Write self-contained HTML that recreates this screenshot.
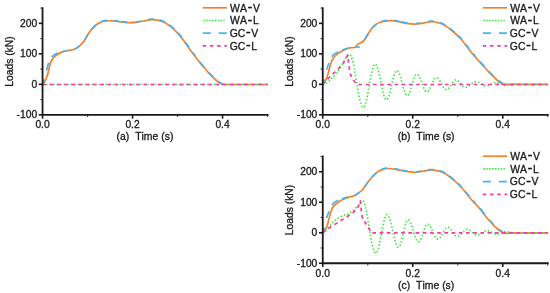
<!DOCTYPE html>
<html lang="en">
<head>
<meta charset="utf-8">
<title>Loads versus time</title>
<style>
html,body{margin:0;padding:0;background:#fff;}
body{width:550px;height:293px;overflow:hidden;font-family:"Liberation Sans",Arial,Helvetica,sans-serif;}
svg text{font-family:"Liberation Sans",Arial,Helvetica,sans-serif;font-kerning:none;}
</style>
</head>
<body>
<svg width="550" height="293" viewBox="0 0 550 293" style="display:block">
<rect width="550" height="293" fill="#ffffff"/>
<g font-family="'Liberation Sans', Arial, Helvetica, sans-serif" font-size="10.3" fill="#1a1a1a" stroke="#1a1a1a" stroke-width="0.3">
<g transform="translate(0.00,0.00)">
<path d="M42.50,84.40 C42.75,84.10 43.52,83.27 44.00,82.60 C44.48,81.93 44.87,81.53 45.40,80.40 C45.93,79.27 46.63,77.60 47.20,75.80 C47.77,74.00 48.23,71.78 48.80,69.60 C49.37,67.42 49.88,64.62 50.60,62.70 C51.32,60.78 52.00,59.47 53.10,58.10 C54.20,56.73 55.62,55.53 57.20,54.50 C58.78,53.47 60.80,52.57 62.60,51.90 C64.40,51.23 66.30,50.85 68.00,50.50 C69.70,50.15 71.32,50.23 72.80,49.80 C74.28,49.37 75.53,48.77 76.90,47.90 C78.27,47.03 79.77,45.78 81.00,44.60 C82.23,43.42 83.23,42.35 84.30,40.80 C85.37,39.25 86.20,37.17 87.40,35.30 C88.60,33.43 90.00,31.37 91.50,29.60 C93.00,27.83 94.77,25.98 96.40,24.70 C98.03,23.42 99.67,22.53 101.30,21.90 C102.93,21.27 104.28,21.07 106.20,20.90 C108.12,20.73 110.33,20.72 112.80,20.90 C115.27,21.08 118.27,21.70 121.00,22.00 C123.73,22.30 126.47,22.67 129.20,22.70 C131.93,22.73 134.67,22.55 137.40,22.20 C140.13,21.85 143.15,21.03 145.60,20.60 C148.05,20.17 149.95,19.65 152.10,19.60 C154.25,19.55 156.52,19.85 158.50,20.30 C160.48,20.75 162.00,21.28 164.00,22.30 C166.00,23.32 167.72,24.02 170.50,26.40 C173.28,28.78 177.28,32.50 180.70,36.60 C184.12,40.70 187.58,46.38 191.00,51.00 C194.42,55.62 198.63,61.08 201.20,64.30 C203.77,67.52 204.70,68.37 206.40,70.30 C208.10,72.23 209.63,74.12 211.40,75.90 C213.17,77.68 215.47,79.73 217.00,81.00 C218.53,82.27 219.62,82.93 220.60,83.50 C221.58,84.07 222.00,84.23 222.90,84.40 C223.80,84.57 218.57,84.48 226.00,84.50 C233.43,84.52 260.58,84.50 267.50,84.50" fill="none" stroke="#f5822a" stroke-width="1.70" stroke-linejoin="round"/>
<path d="M42.55,84.50 L267.60,84.50" fill="none" stroke="#3dea3d" stroke-width="1.70" stroke-linejoin="round" stroke-dasharray="1.5 2.0"/>
<path d="M42.60,84.10 L42.63,84.00 L42.69,83.83 L42.75,83.64 L42.82,83.44 L42.89,83.23 L42.96,83.01 L43.04,82.78 L43.12,82.54 L43.20,82.29 L43.28,82.04 L43.36,81.79 L43.44,81.52 L43.52,81.26 L43.60,81.00 L43.68,80.73 L43.76,80.46 L43.84,80.17 L43.93,79.88 L44.01,79.58 L44.10,79.27 L44.10,79.26 M46.50,70.40 L46.50,70.40 L46.62,69.97 L46.74,69.52 L46.87,69.06 L47.00,68.58 L47.14,68.08 L47.27,67.58 L47.41,67.07 L47.56,66.56 L47.70,66.04 L47.85,65.53 L48.00,65.03 L48.16,64.53 L48.31,64.05 L48.47,63.58 L48.64,63.13 L48.80,62.70 L48.80,62.70 M51.80,57.00 L51.80,57.00 L51.99,56.75 L52.19,56.52 L52.39,56.30 L52.59,56.10 L52.79,55.92 L52.99,55.75 L53.20,55.58 L53.40,55.43 L53.60,55.29 L53.81,55.15 L54.01,55.02 L54.21,54.89 L54.41,54.77 L54.61,54.65 L54.81,54.52 L55.00,54.40 L55.19,54.28 L55.37,54.17 L55.55,54.06 L55.73,53.97 L55.90,53.87 L56.07,53.79 L56.24,53.70 L56.41,53.62 L56.59,53.55 L56.77,53.47 L56.95,53.40 L57.14,53.32 L57.34,53.25 L57.55,53.17 L57.77,53.09 L58.00,53.00 L58.00,53.00 M61.90,51.78 L61.98,51.76 L62.29,51.68 L62.60,51.60 L62.92,51.52 L63.24,51.45 L63.57,51.37 L63.91,51.29 L64.25,51.22 L64.59,51.15 L64.94,51.08 L65.29,51.01 L65.64,50.94 L65.98,50.87 L66.33,50.80 L66.67,50.74 L67.01,50.68 L67.35,50.62 L67.68,50.56 L68.00,50.50 L68.00,50.50 M74.90,49.01 L75.14,48.89 L75.39,48.77 L75.64,48.64 L75.89,48.50 L76.14,48.36 L76.39,48.21 L76.65,48.06 L76.90,47.90 L77.16,47.73 L77.42,47.56 L77.68,47.38 L77.94,47.19 L78.21,46.99 L78.47,46.79 L78.74,46.58 L79.00,46.37 L79.26,46.15 L79.52,45.94 L79.60,45.87 M84.90,39.84 L85.07,39.55 L85.25,39.21 L85.43,38.87 L85.62,38.52 L85.80,38.17 L85.99,37.81 L86.17,37.45 L86.36,37.09 L86.56,36.73 L86.76,36.37 L86.97,36.01 L87.18,35.65 L87.40,35.30 L87.63,34.95 L87.86,34.59 L88.00,34.38 M91.80,29.25 L92.07,28.93 L92.37,28.60 L92.67,28.27 L92.97,27.94 L93.28,27.61 L93.59,27.29 L93.90,26.97 L94.21,26.66 L94.53,26.35 L94.84,26.05 L95.16,25.76 L95.47,25.48 L95.78,25.21 L96.09,24.95 L96.40,24.70 L96.40,24.70 M101.75,21.32 L101.85,21.29 L102.15,21.18 L102.44,21.09 L102.74,21.00 L103.02,20.92 L103.31,20.85 L103.60,20.78 L103.89,20.72 L104.19,20.67 L104.49,20.62 L104.79,20.58 L105.11,20.54 L105.43,20.50 L105.76,20.46 L106.10,20.43 L106.45,20.40 L106.81,20.37 L106.85,20.37 M114.15,20.51 L114.49,20.54 L114.99,20.61 L115.49,20.68 L116.01,20.75 L116.53,20.83 L117.05,20.91 L117.58,20.99 L118.10,21.07 L118.63,21.15 L119.05,21.21 M120.85,21.45 L121.25,21.50 L121.76,21.56 L122.28,21.61 L122.79,21.67 L123.30,21.73 L123.81,21.79 L124.33,21.84 L124.84,21.90 L125.35,21.95 L125.86,22.00 L126.38,22.04 L126.89,22.08 L127.25,22.11 M135.75,21.92 L136.11,21.88 L136.62,21.82 L137.14,21.76 L137.65,21.70 L138.17,21.63 L138.69,21.55 L139.21,21.46 L139.74,21.36 L140.27,21.26 L140.80,21.15 L140.85,21.14 M147.65,19.76 L148.01,19.69 L148.42,19.61 L148.82,19.53 L149.21,19.46 L149.60,19.39 L149.99,19.32 L150.38,19.27 L150.77,19.22 L151.16,19.17 L151.55,19.14 L151.95,19.11 L152.35,19.10 L152.75,19.09 L153.16,19.10 L153.57,19.11 L153.65,19.11 M159.55,19.99 L159.82,20.06 L160.16,20.16 L160.50,20.26 L160.83,20.36 L161.16,20.47 L161.49,20.59 L161.82,20.71 L162.15,20.84 L162.49,20.98 L162.83,21.12 L163.17,21.28 L163.52,21.44 L163.88,21.61 L164.25,21.80 L164.62,21.99 L164.99,22.17 L165.15,22.25 M169.75,25.08 L169.75,25.08 L170.24,25.47 L170.75,25.90 L171.29,26.36 L171.85,26.85 L172.43,27.37 L173.04,27.92 L173.66,28.50 L174.30,29.09 L174.35,29.14 M178.05,32.84 L178.31,33.11 L178.98,33.84 L179.64,34.58 L180.30,35.34 L180.95,36.10 L181.59,36.89 L181.65,36.96 M185.35,42.02 L185.45,42.17 L186.10,43.11 L186.75,44.05 L187.39,45.00 L188.04,45.94 L188.68,46.88 L189.05,47.41 M192.75,52.51 L193.24,53.17 L193.92,54.07 L194.61,54.98 L195.30,55.89 L195.65,56.34 M199.85,61.78 L200.41,62.49 L200.95,63.17 L201.45,63.80 L201.91,64.38 L202.34,64.90 L202.74,65.38 L203.11,65.82 L203.45,66.23 L203.78,66.60 L204.08,66.95 L204.38,67.28 L204.65,67.59 M209.05,72.57 L209.12,72.66 L209.43,73.01 L209.74,73.35 L210.05,73.70 L210.36,74.04 L210.68,74.39 L211.00,74.73 L211.32,75.06 L211.65,75.40 L211.99,75.74 L212.33,76.08 L212.69,76.42 L213.05,76.77 L213.15,76.86 M218.25,81.29 L218.32,81.35 L218.57,81.53 L218.80,81.70 L219.03,81.86 L219.26,82.01 L219.47,82.16 L219.68,82.29 L219.89,82.42 L220.09,82.55 L220.28,82.67 L220.48,82.78 L220.66,82.89 L220.85,83.00 L221.03,83.10 L221.19,83.19 L221.35,83.28 L221.50,83.36 L221.64,83.43 L221.77,83.49 L221.90,83.55 L222.03,83.60 L222.16,83.65 L222.29,83.69 L222.42,83.73 L222.55,83.77 L222.55,83.77 L222.25,84.01 L222.19,84.01 L222.24,84.00 L222.42,84.00 L222.55,84.00 M231.20,84.51 L232.00,84.51 L233.60,84.51 M244.50,84.51 L246.90,84.51 M258.50,84.50 L259.14,84.50 L260.50,84.50" fill="none" stroke="#40b6f4" stroke-width="1.70" stroke-linejoin="round"/>
<path d="M42.55,84.50 L267.60,84.50" fill="none" stroke="#f83aa4" stroke-width="1.70" stroke-linejoin="round" stroke-dasharray="3.7 3.5"/>
<path d="M42.55,8.10 V114.85 H267.60" fill="none" stroke="#1a1a1a" stroke-width="1.8" stroke-linecap="square"/>
<path d="M42.55,114.85 h-3.8" stroke="#1a1a1a" stroke-width="1.6"/>
<text x="37.15" y="118.45" text-anchor="end">-100</text>
<path d="M42.55,84.35 h-3.8" stroke="#1a1a1a" stroke-width="1.6"/>
<text x="37.15" y="87.95" text-anchor="end">0</text>
<path d="M42.55,53.85 h-3.8" stroke="#1a1a1a" stroke-width="1.6"/>
<text x="37.15" y="57.45" text-anchor="end">100</text>
<path d="M42.55,23.35 h-3.8" stroke="#1a1a1a" stroke-width="1.6"/>
<text x="37.15" y="26.95" text-anchor="end">200</text>
<path d="M42.55,99.60 h-2.2" stroke="#1a1a1a" stroke-width="1.1" opacity=".8"/>
<path d="M42.55,69.10 h-2.2" stroke="#1a1a1a" stroke-width="1.1" opacity=".8"/>
<path d="M42.55,38.60 h-2.2" stroke="#1a1a1a" stroke-width="1.1" opacity=".8"/>
<path d="M42.55,8.10 h-2.2" stroke="#1a1a1a" stroke-width="1.1" opacity=".8"/>
<path d="M42.55,114.85 v3.8" stroke="#1a1a1a" stroke-width="1.6"/>
<text x="42.55" y="128.45" text-anchor="middle">0.0</text>
<path d="M132.55,114.85 v3.8" stroke="#1a1a1a" stroke-width="1.6"/>
<text x="132.55" y="128.45" text-anchor="middle">0.2</text>
<path d="M222.55,114.85 v3.8" stroke="#1a1a1a" stroke-width="1.6"/>
<text x="222.55" y="128.45" text-anchor="middle">0.4</text>
<path d="M87.55,114.85 v2.2" stroke="#1a1a1a" stroke-width="1.1" opacity=".8"/>
<path d="M177.55,114.85 v2.2" stroke="#1a1a1a" stroke-width="1.1" opacity=".8"/>
<path d="M267.55,114.85 v2.2" stroke="#1a1a1a" stroke-width="1.1" opacity=".8"/>
<text x="145.00" y="139.60" text-anchor="middle" style="font-size:10.45px;white-space:pre" xml:space="preserve">(a)  Time (s)</text>
<text transform="translate(12.90,61.60) rotate(-90)" text-anchor="middle" style="font-size:10.3px">Loads (kN)</text>
<path d="M202.70,7.80 H227.00" stroke="#f5822a" stroke-width="1.7"/>
<text x="230.10" y="11.50" style="font-size:10.4px">WA<tspan style="font-size:15px" dx="0.55" dy="0.4">-</tspan><tspan dx="0.5" dy="-0.4">V</tspan></text>
<path d="M203.30,20.50 H224.70" stroke="#3dea3d" stroke-width="1.7" stroke-dasharray="1.55 1.3"/>
<text x="230.10" y="24.20" style="font-size:10.4px">WA<tspan style="font-size:15px" dx="0.55" dy="0.4">-</tspan><tspan dx="0.5" dy="-0.4">L</tspan></text>
<path d="M202.70,33.20 H227.00" stroke="#40b6f4" stroke-width="1.7" stroke-dasharray="8 8"/>
<text x="229.65" y="36.90" style="font-size:10.4px">GC<tspan style="font-size:15px" dx="0.55" dy="0.4">-</tspan><tspan dx="0.5" dy="-0.4">V</tspan></text>
<path d="M202.70,45.90 H227.00" stroke="#f83aa4" stroke-width="1.7" stroke-dasharray="3.4 3.8"/>
<text x="229.65" y="49.60" style="font-size:10.4px">GC<tspan style="font-size:15px" dx="0.55" dy="0.4">-</tspan><tspan dx="0.5" dy="-0.4">L</tspan></text>
</g>
<g transform="translate(280.20,0.00)">
<path d="M42.40,84.40 C42.67,84.10 43.48,83.27 44.00,82.60 C44.52,81.93 44.95,81.53 45.50,80.40 C46.05,79.27 46.73,77.60 47.30,75.80 C47.87,74.00 48.30,71.78 48.90,69.60 C49.50,67.42 50.18,64.62 50.90,62.70 C51.62,60.78 52.18,59.52 53.20,58.10 C54.22,56.68 55.47,55.42 57.00,54.20 C58.53,52.98 60.57,51.78 62.40,50.80 C64.23,49.82 66.15,48.85 68.00,48.30 C69.85,47.75 72.17,47.73 73.50,47.50 C74.83,47.27 75.38,47.38 76.00,46.90 C76.62,46.42 76.72,45.17 77.20,44.60 C77.68,44.03 78.15,43.88 78.90,43.50 C79.65,43.12 80.78,42.95 81.70,42.30 C82.62,41.65 83.50,40.73 84.40,39.60 C85.30,38.47 86.18,36.98 87.10,35.50 C88.02,34.02 88.98,32.07 89.90,30.70 C90.82,29.33 91.58,28.37 92.60,27.30 C93.62,26.23 94.87,25.10 96.00,24.30 C97.13,23.50 98.15,23.00 99.40,22.50 C100.65,22.00 102.07,21.58 103.50,21.30 C104.93,21.02 106.35,20.88 108.00,20.80 C109.65,20.72 111.28,20.55 113.40,20.80 C115.52,21.05 118.27,21.82 120.70,22.30 C123.13,22.78 125.88,23.40 128.00,23.70 C130.12,24.00 131.28,24.13 133.40,24.10 C135.52,24.07 138.57,23.80 140.70,23.50 C142.83,23.20 144.38,22.62 146.20,22.30 C148.02,21.98 150.00,21.62 151.60,21.60 C153.20,21.58 154.40,21.92 155.80,22.20 C157.20,22.48 158.50,22.73 160.00,23.30 C161.50,23.87 163.08,24.57 164.80,25.60 C166.52,26.63 167.68,27.32 170.30,29.50 C172.92,31.68 177.08,34.95 180.50,38.70 C183.92,42.45 187.38,47.83 190.80,52.00 C194.22,56.17 198.27,60.63 201.00,63.70 C203.73,66.77 205.50,68.58 207.20,70.40 C208.90,72.22 209.60,73.00 211.20,74.60 C212.80,76.20 215.27,78.65 216.80,80.00 C218.33,81.35 219.32,81.98 220.40,82.70 C221.48,83.42 222.23,84.01 223.30,84.30 C224.37,84.59 219.43,84.42 226.80,84.45 C234.17,84.48 260.72,84.45 267.50,84.45" fill="none" stroke="#f5822a" stroke-width="1.70" stroke-linejoin="round"/>
<path d="M42.40,84.50 L45.30,83.60 L48.00,82.10 L54.10,76.00 L60.20,67.80 L65.40,58.60 L67.80,55.30 L69.40,54.50 L69.90,54.68 L70.41,55.21 L70.91,56.10 L71.41,57.32 L71.92,58.86 L72.42,60.70 L72.93,62.81 L73.43,65.18 L73.93,67.75 L74.44,70.50 L74.94,73.40 L75.44,76.40 L75.95,79.46 L76.45,82.54 L76.96,85.60 L77.46,88.60 L77.96,91.50 L78.47,94.25 L78.97,96.82 L79.47,99.19 L79.98,101.30 L80.48,103.14 L80.99,104.68 L81.49,105.90 L81.99,106.79 L82.50,107.32 L83.00,107.50 L83.52,107.30 L84.03,106.70 L84.55,105.70 L85.07,104.34 L85.59,102.63 L86.10,100.61 L86.62,98.31 L87.14,95.78 L87.66,93.07 L88.17,90.21 L88.69,87.28 L89.21,84.32 L89.73,81.39 L90.24,78.53 L90.76,75.82 L91.28,73.29 L91.80,70.99 L92.31,68.97 L92.83,67.26 L93.35,65.90 L93.87,64.90 L94.38,64.30 L94.90,64.10 L95.42,64.28 L95.94,64.83 L96.45,65.72 L96.97,66.94 L97.49,68.47 L98.01,70.28 L98.53,72.32 L99.05,74.56 L99.56,76.96 L100.08,79.45 L100.60,82.00 L101.12,84.55 L101.64,87.04 L102.15,89.44 L102.67,91.68 L103.19,93.72 L103.71,95.53 L104.23,97.06 L104.75,98.28 L105.26,99.17 L105.78,99.72 L106.30,99.90 L106.81,99.72 L107.33,99.18 L107.85,98.30 L108.36,97.09 L108.88,95.59 L109.39,93.84 L109.91,91.87 L110.42,89.74 L110.94,87.50 L111.45,85.20 L111.97,82.90 L112.48,80.66 L113.00,78.53 L113.51,76.56 L114.03,74.81 L114.54,73.31 L115.06,72.10 L115.57,71.22 L116.09,70.68 L116.60,70.50 L117.10,70.64 L117.60,71.06 L118.10,71.74 L118.60,72.68 L119.10,73.85 L119.60,75.23 L120.10,76.77 L120.60,78.46 L121.10,80.26 L121.60,82.11 L122.10,83.99 L122.60,85.84 L123.10,87.64 L123.60,89.32 L124.10,90.87 L124.60,92.25 L125.10,93.42 L125.60,94.36 L126.10,95.04 L126.60,95.46 L127.10,95.60 L127.61,95.45 L128.11,95.02 L128.62,94.30 L129.12,93.33 L129.63,92.13 L130.13,90.73 L130.64,89.17 L131.14,87.49 L131.65,85.74 L132.15,83.96 L132.66,82.21 L133.16,80.53 L133.67,78.97 L134.17,77.57 L134.68,76.37 L135.18,75.40 L135.69,74.68 L136.19,74.25 L136.70,74.10 L137.22,74.22 L137.74,74.58 L138.26,75.17 L138.78,75.97 L139.31,76.96 L139.83,78.11 L140.35,79.39 L140.87,80.78 L141.39,82.22 L141.91,83.68 L142.43,85.12 L142.95,86.51 L143.47,87.79 L143.99,88.94 L144.52,89.93 L145.04,90.73 L145.56,91.32 L146.08,91.68 L146.60,91.80 L147.12,91.70 L147.63,91.42 L148.15,90.94 L148.66,90.30 L149.18,89.51 L149.69,88.58 L150.21,87.55 L150.73,86.44 L151.24,85.29 L151.76,84.11 L152.27,82.96 L152.79,81.85 L153.31,80.82 L153.82,79.89 L154.34,79.10 L154.85,78.46 L155.37,77.98 L155.88,77.70 L156.40,77.60 L156.91,77.68 L157.42,77.93 L157.93,78.33 L158.44,78.88 L158.95,79.55 L159.46,80.34 L159.97,81.22 L160.48,82.16 L160.99,83.15 L161.51,84.15 L162.02,85.14 L162.53,86.08 L163.04,86.96 L163.55,87.75 L164.06,88.42 L164.57,88.97 L165.08,89.37 L165.59,89.62 L166.10,89.70 L166.62,89.63 L167.13,89.41 L167.65,89.05 L168.17,88.57 L168.68,87.97 L169.20,87.28 L169.72,86.51 L170.23,85.69 L170.75,84.85 L171.27,84.01 L171.78,83.19 L172.30,82.42 L172.82,81.73 L173.33,81.13 L173.85,80.65 L174.37,80.29 L174.88,80.07 L175.40,80.00 L175.90,80.04 L176.40,80.18 L176.90,80.40 L177.40,80.70 L177.90,81.07 L178.40,81.50 L178.90,81.99 L179.40,82.52 L179.90,83.08 L180.40,83.65 L180.90,84.22 L181.40,84.78 L181.90,85.31 L182.40,85.80 L182.90,86.23 L183.40,86.60 L183.90,86.90 L184.40,87.12 L184.90,87.26 L185.40,87.30 L185.91,87.27 L186.42,87.18 L186.93,87.03 L187.44,86.82 L187.95,86.57 L188.46,86.26 L188.97,85.92 L189.48,85.55 L189.99,85.16 L190.50,84.76 L191.00,84.34 L191.51,83.94 L192.02,83.55 L192.53,83.17 L193.04,82.84 L193.55,82.53 L194.06,82.28 L194.57,82.07 L195.08,81.92 L195.59,81.83 L196.10,81.80 L196.62,81.83 L197.14,81.93 L197.67,82.08 L198.19,82.29 L198.71,82.55 L199.23,82.85 L199.76,83.18 L200.28,83.54 L200.80,83.90 L201.32,84.26 L201.84,84.62 L202.37,84.95 L202.89,85.25 L203.41,85.51 L203.93,85.72 L204.46,85.87 L204.98,85.97 L205.50,86.00 L206.01,85.98 L206.53,85.92 L207.05,85.83 L207.56,85.69 L208.07,85.53 L208.59,85.34 L209.11,85.13 L209.62,84.89 L210.13,84.65 L210.65,84.40 L211.17,84.15 L211.68,83.91 L212.19,83.67 L212.71,83.46 L213.23,83.27 L213.74,83.11 L214.25,82.97 L214.77,82.88 L215.29,82.82 L215.80,82.80 L216.31,82.82 L216.83,82.86 L217.35,82.94 L217.86,83.05 L218.38,83.18 L218.89,83.34 L219.41,83.51 L219.92,83.70 L220.44,83.90 L220.95,84.10 L221.47,84.30 L221.98,84.50 L222.50,84.69 L223.01,84.86 L223.53,85.02 L224.04,85.15 L224.56,85.26 L225.07,85.34 L225.59,85.38 L226.10,85.40 L226.61,85.39 L227.12,85.37 L227.63,85.33 L228.14,85.27 L228.65,85.21 L229.16,85.13 L229.67,85.04 L230.18,84.95 L230.69,84.85 L231.21,84.75 L231.72,84.65 L232.23,84.56 L232.74,84.47 L233.25,84.39 L233.76,84.33 L234.27,84.27 L234.78,84.23 L235.29,84.21 L235.80,84.20 L236.30,84.20 L236.80,84.21 L237.30,84.22 L237.80,84.24 L238.30,84.26 L238.80,84.28 L239.30,84.31 L239.80,84.34 L240.30,84.37 L240.80,84.40 L241.30,84.43 L241.80,84.46 L242.30,84.49 L242.80,84.52 L243.30,84.54 L243.80,84.56 L244.30,84.58 L244.80,84.59 L245.30,84.60 L245.80,84.60 L267.50,84.50" fill="none" stroke="#3dea3d" stroke-width="1.70" stroke-linejoin="round" stroke-dasharray="1.5 2.0"/>
<path d="M42.60,83.86 L42.61,83.83 L42.68,83.64 L42.75,83.44 L42.83,83.23 L42.91,83.01 L43.00,82.78 L43.08,82.54 L43.17,82.29 L43.26,82.04 L43.35,81.79 L43.43,81.52 L43.52,81.26 L43.60,81.00 L43.68,80.73 L43.77,80.46 L43.85,80.17 L43.94,79.88 L44.03,79.58 L44.10,79.32 M46.50,69.71 L46.53,69.61 L46.65,69.20 L46.77,68.79 L46.89,68.37 L47.02,67.94 L47.16,67.51 L47.29,67.08 L47.44,66.64 L47.58,66.20 L47.74,65.76 L47.90,65.31 L48.06,64.86 L48.23,64.41 L48.41,63.96 L48.60,63.50 L48.79,63.03 L48.80,63.02 M51.80,56.69 L51.88,56.56 L52.14,56.16 L52.40,55.80 L52.66,55.47 L52.93,55.16 L53.20,54.88 L53.48,54.62 L53.75,54.39 L54.03,54.17 L54.31,53.96 L54.60,53.77 L54.89,53.59 L55.18,53.41 L55.48,53.24 L55.78,53.08 L56.08,52.91 L56.38,52.75 L56.69,52.58 L57.00,52.40 L57.32,52.22 L57.64,52.05 L57.96,51.88 L58.00,51.86 M61.90,50.19 L62.06,50.13 L62.40,50.00 L62.74,49.87 L63.09,49.74 L63.44,49.61 L63.79,49.48 L64.14,49.36 L64.49,49.24 L64.84,49.12 L65.19,49.00 L65.55,48.89 L65.90,48.78 L66.25,48.67 L66.60,48.57 L66.95,48.47 L67.30,48.37 L67.65,48.28 L68.00,48.20 L68.00,48.20 M74.90,47.22 L75.09,47.20 L75.28,47.17 L75.46,47.15 L75.64,47.13 L75.83,47.11 L76.01,47.09 L76.20,47.07 L76.39,47.05 L76.59,47.02 L76.80,47.00 L77.01,46.98 L77.23,46.98 L77.46,46.98 L77.68,46.99 L77.91,47.00 L78.13,47.01 L78.36,47.02 L78.59,47.03 L78.81,47.03 L79.04,47.02 L79.26,47.00 L79.48,46.96 L79.60,46.93 M84.90,39.04 L84.91,39.03 L85.04,38.78 L85.17,38.54 L85.30,38.30 L85.42,38.07 L85.54,37.85 L85.65,37.65 L85.76,37.45 L85.87,37.25 L85.97,37.06 L86.07,36.87 L86.17,36.69 L86.27,36.50 L86.37,36.31 L86.48,36.11 L86.59,35.91 L86.71,35.70 L86.83,35.48 L86.96,35.25 L87.10,35.00 L87.25,34.74 L87.40,34.46 L87.56,34.17 L87.73,33.86 L87.90,33.55 L88.00,33.37 M91.80,28.06 L91.88,27.99 L92.05,27.82 L92.23,27.65 L92.41,27.48 L92.60,27.30 L92.79,27.11 L92.99,26.92 L93.19,26.73 L93.40,26.53 L93.61,26.33 L93.82,26.13 L94.04,25.93 L94.26,25.73 L94.47,25.53 L94.69,25.34 L94.91,25.15 L95.13,24.97 L95.35,24.79 L95.57,24.62 L95.79,24.45 L96.00,24.30 L96.21,24.15 L96.40,24.03 M101.75,21.28 L101.89,21.24 L102.15,21.17 L102.42,21.10 L102.68,21.04 L102.95,20.97 L103.21,20.91 L103.48,20.85 L103.75,20.80 L104.02,20.75 L104.29,20.70 L104.56,20.66 L104.83,20.61 L105.10,20.58 L105.37,20.54 L105.64,20.51 L105.92,20.48 L106.20,20.45 L106.48,20.42 L106.76,20.40 L106.85,20.39 M114.15,20.37 L114.47,20.42 L114.90,20.49 L115.34,20.57 L115.79,20.66 L116.25,20.76 L116.71,20.86 L117.18,20.96 L117.65,21.07 L118.13,21.18 L118.60,21.29 L119.05,21.39 M120.85,21.78 L120.95,21.80 L121.41,21.89 L121.88,21.99 L122.35,22.08 L122.82,22.18 L123.30,22.28 L123.77,22.38 L124.25,22.47 L124.72,22.57 L125.19,22.66 L125.65,22.75 L126.11,22.84 L126.56,22.92 L127.00,23.00 L127.25,23.04 M135.75,23.51 L135.85,23.51 L136.33,23.47 L136.81,23.44 L137.29,23.40 L137.78,23.36 L138.26,23.31 L138.74,23.27 L139.21,23.22 L139.67,23.16 L140.11,23.11 L140.54,23.06 L140.85,23.01 M147.65,21.59 L147.84,21.56 L148.19,21.50 L148.54,21.44 L148.88,21.39 L149.23,21.34 L149.58,21.29 L149.92,21.25 L150.25,21.21 L150.59,21.17 L150.91,21.14 L151.23,21.12 L151.55,21.11 L151.85,21.10 L152.15,21.10 L152.43,21.11 L152.71,21.12 L152.98,21.15 L153.25,21.17 L153.51,21.21 L153.65,21.23 M159.55,22.55 L159.70,22.60 L159.97,22.70 L160.25,22.80 L160.53,22.91 L160.82,23.02 L161.10,23.13 L161.39,23.25 L161.68,23.38 L161.98,23.50 L162.27,23.64 L162.57,23.78 L162.87,23.92 L163.17,24.07 L163.48,24.22 L163.79,24.38 L164.10,24.55 L164.41,24.73 L164.73,24.91 L165.05,25.10 L165.15,25.16 M169.75,28.34 L170.08,28.61 L170.55,29.00 L171.06,29.42 L171.60,29.87 L172.17,30.34 L172.77,30.83 L173.39,31.35 L174.03,31.88 L174.35,32.16 M178.05,35.46 L178.08,35.49 L178.76,36.15 L179.44,36.82 L180.10,37.50 L180.75,38.20 L181.39,38.92 L181.65,39.23 M185.35,43.95 L185.90,44.69 L186.55,45.57 L187.19,46.45 L187.84,47.32 L188.48,48.19 L189.05,48.95 M192.75,53.54 L193.03,53.86 L193.70,54.65 L194.38,55.44 L195.06,56.22 L195.65,56.90 M199.85,61.63 L200.17,61.99 L200.72,62.61 L201.25,63.20 L201.75,63.76 L202.23,64.29 L202.69,64.80 L203.13,65.29 L203.56,65.75 L203.96,66.19 L204.36,66.61 L204.65,66.92 M209.05,71.62 L209.27,71.85 L209.49,72.08 L209.71,72.31 L209.93,72.55 L210.16,72.78 L210.39,73.02 L210.63,73.27 L210.89,73.53 L211.16,73.81 L211.45,74.10 L211.76,74.41 L212.09,74.74 L212.43,75.08 L212.78,75.43 L213.15,75.79 L213.15,75.79 M218.25,80.50 L218.35,80.58 L218.58,80.76 L218.80,80.93 L219.02,81.09 L219.23,81.24 L219.44,81.39 L219.64,81.53 L219.85,81.67 L220.05,81.80 L220.25,81.93 L220.45,82.07 L220.65,82.20 L220.85,82.33 L221.04,82.46 L221.23,82.59 L221.41,82.71 L221.59,82.83 L221.76,82.94 L221.93,83.05 L222.11,83.16 L222.28,83.26 L222.45,83.35 L222.55,83.41 M231.20,84.46 L232.71,84.46 L233.60,84.46 M244.50,84.46 L246.90,84.46 M258.50,84.45 L259.31,84.45 L260.50,84.45" fill="none" stroke="#40b6f4" stroke-width="1.70" stroke-linejoin="round"/>
<path d="M42.40,84.50 L45.90,80.60 L52.10,74.50 L58.20,68.90 L63.30,62.70 L66.00,58.20 L67.60,55.00 L68.40,64.80 L70.50,75.00 L73.50,80.60 L77.60,84.50 L267.50,84.50" fill="none" stroke="#f83aa4" stroke-width="1.70" stroke-linejoin="round" stroke-dasharray="3.7 3.5"/>
<path d="M42.55,8.10 V114.85 H267.60" fill="none" stroke="#1a1a1a" stroke-width="1.8" stroke-linecap="square"/>
<path d="M42.55,114.85 h-3.8" stroke="#1a1a1a" stroke-width="1.6"/>
<text x="37.15" y="118.45" text-anchor="end">-100</text>
<path d="M42.55,84.35 h-3.8" stroke="#1a1a1a" stroke-width="1.6"/>
<text x="37.15" y="87.95" text-anchor="end">0</text>
<path d="M42.55,53.85 h-3.8" stroke="#1a1a1a" stroke-width="1.6"/>
<text x="37.15" y="57.45" text-anchor="end">100</text>
<path d="M42.55,23.35 h-3.8" stroke="#1a1a1a" stroke-width="1.6"/>
<text x="37.15" y="26.95" text-anchor="end">200</text>
<path d="M42.55,99.60 h-2.2" stroke="#1a1a1a" stroke-width="1.1" opacity=".8"/>
<path d="M42.55,69.10 h-2.2" stroke="#1a1a1a" stroke-width="1.1" opacity=".8"/>
<path d="M42.55,38.60 h-2.2" stroke="#1a1a1a" stroke-width="1.1" opacity=".8"/>
<path d="M42.55,8.10 h-2.2" stroke="#1a1a1a" stroke-width="1.1" opacity=".8"/>
<path d="M42.55,114.85 v3.8" stroke="#1a1a1a" stroke-width="1.6"/>
<text x="42.55" y="128.45" text-anchor="middle">0.0</text>
<path d="M132.55,114.85 v3.8" stroke="#1a1a1a" stroke-width="1.6"/>
<text x="132.55" y="128.45" text-anchor="middle">0.2</text>
<path d="M222.55,114.85 v3.8" stroke="#1a1a1a" stroke-width="1.6"/>
<text x="222.55" y="128.45" text-anchor="middle">0.4</text>
<path d="M87.55,114.85 v2.2" stroke="#1a1a1a" stroke-width="1.1" opacity=".8"/>
<path d="M177.55,114.85 v2.2" stroke="#1a1a1a" stroke-width="1.1" opacity=".8"/>
<path d="M267.55,114.85 v2.2" stroke="#1a1a1a" stroke-width="1.1" opacity=".8"/>
<text x="146.00" y="140.30" text-anchor="middle" style="font-size:10.45px;white-space:pre" xml:space="preserve">(b)  Time (s)</text>
<text transform="translate(12.90,61.60) rotate(-90)" text-anchor="middle" style="font-size:10.3px">Loads (kN)</text>
<path d="M202.70,7.80 H227.00" stroke="#f5822a" stroke-width="1.7"/>
<text x="230.10" y="11.50" style="font-size:10.4px">WA<tspan style="font-size:15px" dx="0.55" dy="0.4">-</tspan><tspan dx="0.5" dy="-0.4">V</tspan></text>
<path d="M203.30,20.50 H224.70" stroke="#3dea3d" stroke-width="1.7" stroke-dasharray="1.55 1.3"/>
<text x="230.10" y="24.20" style="font-size:10.4px">WA<tspan style="font-size:15px" dx="0.55" dy="0.4">-</tspan><tspan dx="0.5" dy="-0.4">L</tspan></text>
<path d="M202.70,33.20 H227.00" stroke="#40b6f4" stroke-width="1.7" stroke-dasharray="8 8"/>
<text x="229.65" y="36.90" style="font-size:10.4px">GC<tspan style="font-size:15px" dx="0.55" dy="0.4">-</tspan><tspan dx="0.5" dy="-0.4">V</tspan></text>
<path d="M202.70,45.90 H227.00" stroke="#f83aa4" stroke-width="1.7" stroke-dasharray="3.4 3.8"/>
<text x="229.65" y="49.60" style="font-size:10.4px">GC<tspan style="font-size:15px" dx="0.55" dy="0.4">-</tspan><tspan dx="0.5" dy="-0.4">L</tspan></text>
</g>
<g transform="translate(280.20,148.40)">
<path d="M42.40,84.40 C42.67,84.10 43.48,83.28 44.00,82.60 C44.52,81.92 44.95,81.38 45.50,80.30 C46.05,79.22 46.73,77.82 47.30,76.10 C47.87,74.38 48.30,72.22 48.90,70.00 C49.50,67.78 50.18,64.78 50.90,62.80 C51.62,60.82 52.18,59.47 53.20,58.10 C54.22,56.73 55.47,55.77 57.00,54.60 C58.53,53.43 60.57,52.03 62.40,51.10 C64.23,50.17 66.13,49.60 68.00,49.00 C69.87,48.40 71.93,48.20 73.60,47.50 C75.27,46.80 76.52,45.87 78.00,44.80 C79.48,43.73 80.98,42.80 82.50,41.10 C84.02,39.40 85.58,36.60 87.10,34.60 C88.62,32.60 89.93,30.92 91.60,29.10 C93.27,27.28 95.28,25.05 97.10,23.70 C98.92,22.35 100.83,21.60 102.50,21.00 C104.17,20.40 105.28,20.17 107.10,20.10 C108.92,20.03 111.13,20.27 113.40,20.60 C115.67,20.93 118.27,21.65 120.70,22.10 C123.13,22.55 125.57,23.00 128.00,23.30 C130.43,23.60 132.88,23.98 135.30,23.90 C137.72,23.82 140.08,23.17 142.50,22.80 C144.92,22.43 147.67,21.83 149.80,21.70 C151.93,21.57 153.60,21.78 155.30,22.00 C157.00,22.22 158.42,22.47 160.00,23.00 C161.58,23.53 163.08,24.18 164.80,25.20 C166.52,26.22 167.68,26.92 170.30,29.10 C172.92,31.28 177.08,34.68 180.50,38.30 C183.92,41.92 187.65,47.17 190.80,50.80 C193.95,54.43 197.03,57.35 199.40,60.10 C201.77,62.85 203.03,64.90 205.00,67.30 C206.97,69.70 209.23,72.37 211.20,74.50 C213.17,76.63 215.27,78.72 216.80,80.10 C218.33,81.48 219.37,82.12 220.40,82.80 C221.43,83.48 221.97,83.83 223.00,84.20 C224.03,84.57 225.50,84.93 226.60,85.00 C227.70,85.07 228.57,84.70 229.60,84.60 C230.63,84.50 226.48,84.43 232.80,84.40 C239.12,84.37 261.72,84.40 267.50,84.40" fill="none" stroke="#f5822a" stroke-width="1.70" stroke-linejoin="round"/>
<path d="M42.40,84.50 L44.30,83.40 L46.30,81.30 L51.40,75.40 L56.50,70.30 L61.70,67.70 L68.50,65.20 L74.40,60.90 L77.80,57.30 L80.40,54.10 L82.20,52.30 L82.72,52.49 L83.23,53.06 L83.75,54.01 L84.26,55.31 L84.78,56.95 L85.29,58.90 L85.81,61.14 L86.32,63.64 L86.84,66.35 L87.35,69.24 L87.87,72.27 L88.38,75.39 L88.90,78.55 L89.42,81.71 L89.93,84.83 L90.45,87.86 L90.96,90.75 L91.48,93.46 L91.99,95.96 L92.51,98.20 L93.02,100.15 L93.54,101.79 L94.05,103.09 L94.57,104.04 L95.08,104.61 L95.60,104.80 L96.11,104.60 L96.62,104.02 L97.13,103.06 L97.64,101.74 L98.15,100.09 L98.65,98.14 L99.16,95.93 L99.67,93.52 L100.18,90.94 L100.69,88.25 L101.20,85.50 L101.71,82.75 L102.22,80.06 L102.73,77.48 L103.24,75.07 L103.75,72.86 L104.25,70.91 L104.76,69.26 L105.27,67.94 L105.78,66.98 L106.29,66.40 L106.80,66.20 L107.32,66.37 L107.84,66.86 L108.35,67.68 L108.87,68.80 L109.39,70.19 L109.91,71.84 L110.43,73.71 L110.95,75.76 L111.46,77.94 L111.98,80.22 L112.50,82.55 L113.02,84.88 L113.54,87.16 L114.05,89.34 L114.57,91.39 L115.09,93.26 L115.61,94.91 L116.13,96.30 L116.65,97.42 L117.16,98.24 L117.68,98.73 L118.20,98.90 L118.71,98.71 L119.21,98.15 L119.72,97.24 L120.22,96.00 L120.73,94.46 L121.23,92.67 L121.74,90.67 L122.24,88.53 L122.75,86.29 L123.25,84.01 L123.76,81.77 L124.26,79.63 L124.77,77.63 L125.27,75.84 L125.78,74.30 L126.28,73.06 L126.79,72.15 L127.29,71.59 L127.80,71.40 L128.30,71.52 L128.80,71.89 L129.30,72.49 L129.80,73.31 L130.30,74.34 L130.80,75.54 L131.30,76.90 L131.80,78.38 L132.30,79.95 L132.80,81.58 L133.30,83.22 L133.80,84.85 L134.30,86.42 L134.80,87.90 L135.30,89.26 L135.80,90.46 L136.30,91.49 L136.80,92.31 L137.30,92.91 L137.80,93.28 L138.30,93.40 L138.81,93.27 L139.31,92.87 L139.82,92.21 L140.32,91.33 L140.83,90.24 L141.33,88.97 L141.84,87.58 L142.34,86.09 L142.85,84.55 L143.36,83.01 L143.86,81.52 L144.37,80.12 L144.87,78.86 L145.38,77.77 L145.88,76.89 L146.39,76.23 L146.89,75.83 L147.40,75.70 L147.90,75.79 L148.40,76.07 L148.90,76.52 L149.40,77.14 L149.90,77.91 L150.40,78.81 L150.90,79.82 L151.40,80.92 L151.90,82.07 L152.40,83.25 L152.90,84.43 L153.40,85.58 L153.90,86.68 L154.40,87.69 L154.90,88.59 L155.40,89.36 L155.90,89.98 L156.40,90.43 L156.90,90.71 L157.40,90.80 L157.91,90.73 L158.42,90.51 L158.93,90.15 L159.44,89.66 L159.95,89.06 L160.46,88.35 L160.97,87.55 L161.48,86.69 L161.99,85.78 L162.50,84.85 L163.01,83.92 L163.52,83.01 L164.03,82.15 L164.54,81.35 L165.05,80.64 L165.56,80.04 L166.07,79.55 L166.58,79.19 L167.09,78.97 L167.60,78.90 L168.12,78.97 L168.64,79.17 L169.17,79.50 L169.69,79.95 L170.21,80.51 L170.73,81.15 L171.26,81.86 L171.78,82.62 L172.30,83.40 L172.82,84.18 L173.34,84.94 L173.87,85.65 L174.39,86.29 L174.91,86.85 L175.43,87.30 L175.96,87.63 L176.48,87.83 L177.00,87.90 L177.51,87.86 L178.03,87.73 L178.55,87.52 L179.06,87.24 L179.57,86.89 L180.09,86.48 L180.61,86.02 L181.12,85.52 L181.63,84.99 L182.15,84.45 L182.67,83.91 L183.18,83.38 L183.69,82.88 L184.21,82.42 L184.73,82.01 L185.24,81.66 L185.75,81.38 L186.27,81.17 L186.79,81.04 L187.30,81.00 L187.82,81.04 L188.34,81.17 L188.87,81.38 L189.39,81.66 L189.91,82.00 L190.43,82.40 L190.96,82.84 L191.48,83.31 L192.00,83.80 L192.52,84.29 L193.04,84.76 L193.57,85.20 L194.09,85.60 L194.61,85.94 L195.13,86.22 L195.66,86.43 L196.18,86.56 L196.70,86.60 L197.21,86.57 L197.73,86.49 L198.25,86.37 L198.76,86.19 L199.27,85.97 L199.79,85.71 L200.31,85.43 L200.82,85.11 L201.33,84.79 L201.85,84.45 L202.37,84.11 L202.88,83.79 L203.39,83.47 L203.91,83.19 L204.43,82.93 L204.94,82.71 L205.45,82.53 L205.97,82.41 L206.49,82.33 L207.00,82.30 L207.52,82.33 L208.04,82.40 L208.57,82.53 L209.09,82.70 L209.61,82.91 L210.13,83.15 L210.66,83.42 L211.18,83.70 L211.70,84.00 L212.22,84.30 L212.74,84.58 L213.27,84.85 L213.79,85.09 L214.31,85.30 L214.83,85.47 L215.36,85.60 L215.88,85.67 L216.40,85.70 L216.92,85.68 L217.44,85.62 L217.97,85.53 L218.49,85.41 L219.01,85.25 L219.53,85.07 L220.06,84.88 L220.58,84.67 L221.10,84.45 L221.62,84.23 L222.14,84.02 L222.67,83.82 L223.19,83.65 L223.71,83.49 L224.23,83.37 L224.76,83.28 L225.28,83.22 L225.80,83.20 L226.30,83.21 L226.80,83.25 L227.30,83.32 L227.80,83.41 L228.30,83.52 L228.80,83.65 L229.30,83.79 L229.80,83.94 L230.30,84.10 L230.80,84.26 L231.30,84.41 L231.80,84.55 L232.30,84.68 L232.80,84.79 L233.30,84.88 L233.80,84.95 L234.30,84.99 L234.80,85.00 L235.30,85.00 L235.80,84.98 L236.30,84.96 L236.80,84.93 L237.30,84.89 L237.80,84.85 L238.30,84.80 L238.80,84.75 L239.30,84.70 L239.80,84.65 L240.30,84.60 L240.80,84.55 L241.30,84.51 L241.80,84.47 L242.30,84.44 L242.80,84.42 L243.30,84.40 L243.80,84.40 L267.50,84.50" fill="none" stroke="#3dea3d" stroke-width="1.70" stroke-linejoin="round" stroke-dasharray="1.5 2.0"/>
<path d="M42.60,83.86 L42.61,83.83 L42.68,83.64 L42.75,83.44 L42.83,83.23 L42.91,83.01 L43.00,82.78 L43.08,82.54 L43.17,82.29 L43.26,82.04 L43.35,81.79 L43.43,81.52 L43.52,81.26 L43.60,81.00 L43.68,80.73 L43.77,80.46 L43.85,80.17 L43.94,79.88 L44.03,79.58 L44.10,79.32 M46.50,69.71 L46.53,69.61 L46.65,69.20 L46.77,68.79 L46.89,68.37 L47.02,67.94 L47.16,67.51 L47.29,67.08 L47.44,66.64 L47.58,66.20 L47.74,65.76 L47.90,65.31 L48.06,64.86 L48.23,64.41 L48.41,63.96 L48.60,63.50 L48.79,63.03 L48.80,63.02 M51.80,56.69 L51.88,56.56 L52.14,56.16 L52.40,55.80 L52.66,55.47 L52.93,55.16 L53.20,54.88 L53.48,54.62 L53.75,54.38 L54.03,54.16 L54.31,53.95 L54.60,53.76 L54.89,53.57 L55.18,53.40 L55.48,53.23 L55.78,53.06 L56.08,52.90 L56.38,52.74 L56.69,52.57 L57.00,52.40 L57.32,52.23 L57.64,52.06 L57.96,51.90 L58.00,51.89 M61.90,50.37 L62.06,50.32 L62.40,50.20 L62.74,50.08 L63.09,49.97 L63.44,49.86 L63.79,49.75 L64.14,49.64 L64.49,49.53 L64.84,49.43 L65.19,49.33 L65.54,49.23 L65.89,49.14 L66.24,49.04 L66.60,48.95 L66.95,48.86 L67.30,48.77 L67.65,48.69 L68.00,48.60 L68.00,48.60 M74.90,46.90 L75.06,46.81 L75.33,46.65 L75.60,46.48 L75.87,46.31 L76.13,46.14 L76.40,45.96 L76.66,45.77 L76.92,45.58 L77.19,45.39 L77.45,45.20 L77.72,45.00 L78.00,44.80 L78.28,44.60 L78.56,44.40 L78.84,44.21 L79.12,44.01 L79.40,43.81 L79.60,43.66 M84.90,37.81 L85.09,37.53 L85.38,37.09 L85.67,36.65 L85.95,36.22 L86.24,35.80 L86.53,35.38 L86.82,34.98 L87.10,34.60 L87.38,34.23 L87.66,33.86 L87.94,33.51 L88.00,33.42 M91.80,28.88 L91.92,28.75 L92.24,28.40 L92.57,28.04 L92.91,27.68 L93.25,27.31 L93.59,26.95 L93.94,26.59 L94.29,26.22 L94.65,25.87 L95.00,25.52 L95.36,25.18 L95.71,24.86 L96.06,24.54 L96.40,24.25 M101.75,20.87 L101.79,20.86 L102.11,20.73 L102.43,20.61 L102.75,20.50 L103.06,20.39 L103.35,20.29 L103.64,20.20 L103.92,20.12 L104.19,20.04 L104.46,19.97 L104.73,19.91 L104.99,19.85 L105.26,19.80 L105.54,19.76 L105.81,19.72 L106.10,19.68 L106.39,19.66 L106.70,19.63 L106.85,19.62 M114.15,20.18 L114.51,20.24 L114.96,20.32 L115.40,20.41 L115.86,20.50 L116.31,20.60 L116.77,20.70 L117.24,20.81 L117.70,20.91 L118.17,21.02 L118.64,21.12 L119.05,21.21 M120.85,21.58 L120.95,21.60 L121.41,21.68 L121.86,21.77 L122.32,21.85 L122.77,21.94 L123.23,22.02 L123.69,22.10 L124.14,22.18 L124.60,22.26 L125.06,22.33 L125.51,22.41 L125.97,22.48 L126.42,22.55 L126.88,22.62 L127.25,22.67 M135.75,23.39 L136.00,23.38 L136.45,23.34 L136.90,23.30 L137.35,23.24 L137.80,23.18 L138.25,23.11 L138.70,23.04 L139.15,22.96 L139.60,22.87 L140.05,22.79 L140.50,22.70 L140.85,22.63 M147.65,21.48 L147.90,21.44 L148.35,21.38 L148.79,21.32 L149.22,21.27 L149.64,21.23 L150.05,21.20 L150.44,21.18 L150.83,21.17 L151.20,21.16 L151.57,21.16 L151.93,21.17 L152.28,21.18 L152.62,21.20 L152.96,21.22 L153.30,21.24 L153.63,21.27 L153.65,21.28 M159.55,22.28 L159.66,22.31 L159.95,22.40 L160.25,22.50 L160.55,22.60 L160.84,22.71 L161.13,22.81 L161.43,22.93 L161.72,23.04 L162.01,23.16 L162.31,23.29 L162.60,23.42 L162.90,23.56 L163.19,23.70 L163.49,23.85 L163.80,24.00 L164.11,24.17 L164.42,24.34 L164.73,24.51 L165.05,24.70 L165.15,24.76 M169.75,27.94 L170.08,28.21 L170.55,28.60 L171.06,29.02 L171.60,29.47 L172.17,29.95 L172.77,30.45 L173.39,30.97 L174.03,31.52 L174.35,31.80 M178.05,35.11 L178.08,35.14 L178.76,35.80 L179.44,36.46 L180.10,37.12 L180.75,37.80 L181.39,38.50 L181.65,38.78 M185.35,43.22 L186.00,44.04 L186.66,44.88 L187.31,45.70 L187.95,46.52 L188.59,47.32 L189.05,47.89 M192.75,52.21 L192.81,52.27 L193.39,52.90 L193.96,53.51 L194.53,54.11 L195.09,54.70 L195.64,55.28 L195.65,55.29 M199.85,59.84 L200.08,60.11 L200.49,60.60 L200.88,61.08 L201.25,61.55 L201.60,62.01 L201.94,62.45 L202.28,62.90 L202.60,63.33 L202.92,63.76 L203.24,64.19 L203.56,64.62 L203.88,65.05 L204.21,65.48 L204.54,65.91 L204.65,66.05 M209.05,71.31 L209.14,71.42 L209.54,71.87 L209.93,72.31 L210.32,72.75 L210.70,73.18 L211.08,73.59 L211.45,74.00 L211.82,74.40 L212.19,74.80 L212.57,75.19 L212.94,75.58 L213.15,75.80 M218.25,80.62 L218.36,80.70 L218.59,80.88 L218.82,81.05 L219.04,81.21 L219.25,81.36 L219.46,81.51 L219.67,81.65 L219.87,81.78 L220.07,81.92 L220.26,82.04 L220.46,82.17 L220.65,82.30 L220.84,82.42 L221.02,82.54 L221.19,82.65 L221.35,82.76 L221.50,82.85 L221.65,82.95 L221.80,83.03 L221.95,83.12 L222.10,83.20 L222.25,83.28 L222.40,83.35 L222.55,83.42 M231.20,84.41 L231.73,84.41 L232.80,84.40 L233.60,84.40 M244.50,84.39 L245.03,84.39 L246.90,84.39 M258.50,84.39 L260.50,84.40" fill="none" stroke="#40b6f4" stroke-width="1.70" stroke-linejoin="round"/>
<path d="M42.40,84.50 L46.30,81.50 L51.40,77.90 L58.20,73.70 L65.10,69.40 L71.90,65.20 L77.00,60.00 L79.00,56.10 L80.10,52.50 L81.20,63.50 L82.40,70.30 L86.40,76.20 L88.90,80.50 L91.10,84.50 L267.50,84.50" fill="none" stroke="#f83aa4" stroke-width="1.70" stroke-linejoin="round" stroke-dasharray="3.7 3.5"/>
<path d="M42.55,8.10 V114.85 H267.60" fill="none" stroke="#1a1a1a" stroke-width="1.8" stroke-linecap="square"/>
<path d="M42.55,114.85 h-3.8" stroke="#1a1a1a" stroke-width="1.6"/>
<text x="37.15" y="118.45" text-anchor="end">-100</text>
<path d="M42.55,84.35 h-3.8" stroke="#1a1a1a" stroke-width="1.6"/>
<text x="37.15" y="87.95" text-anchor="end">0</text>
<path d="M42.55,53.85 h-3.8" stroke="#1a1a1a" stroke-width="1.6"/>
<text x="37.15" y="57.45" text-anchor="end">100</text>
<path d="M42.55,23.35 h-3.8" stroke="#1a1a1a" stroke-width="1.6"/>
<text x="37.15" y="26.95" text-anchor="end">200</text>
<path d="M42.55,99.60 h-2.2" stroke="#1a1a1a" stroke-width="1.1" opacity=".8"/>
<path d="M42.55,69.10 h-2.2" stroke="#1a1a1a" stroke-width="1.1" opacity=".8"/>
<path d="M42.55,38.60 h-2.2" stroke="#1a1a1a" stroke-width="1.1" opacity=".8"/>
<path d="M42.55,8.10 h-2.2" stroke="#1a1a1a" stroke-width="1.1" opacity=".8"/>
<path d="M42.55,114.85 v3.8" stroke="#1a1a1a" stroke-width="1.6"/>
<text x="42.55" y="128.45" text-anchor="middle">0.0</text>
<path d="M132.55,114.85 v3.8" stroke="#1a1a1a" stroke-width="1.6"/>
<text x="132.55" y="128.45" text-anchor="middle">0.2</text>
<path d="M222.55,114.85 v3.8" stroke="#1a1a1a" stroke-width="1.6"/>
<text x="222.55" y="128.45" text-anchor="middle">0.4</text>
<path d="M87.55,114.85 v2.2" stroke="#1a1a1a" stroke-width="1.1" opacity=".8"/>
<path d="M177.55,114.85 v2.2" stroke="#1a1a1a" stroke-width="1.1" opacity=".8"/>
<path d="M267.55,114.85 v2.2" stroke="#1a1a1a" stroke-width="1.1" opacity=".8"/>
<text x="146.00" y="140.30" text-anchor="middle" style="font-size:10.45px;white-space:pre" xml:space="preserve">(c)  Time (s)</text>
<text transform="translate(12.90,61.60) rotate(-90)" text-anchor="middle" style="font-size:10.3px">Loads (kN)</text>
<path d="M202.70,7.80 H227.00" stroke="#f5822a" stroke-width="1.7"/>
<text x="230.10" y="11.50" style="font-size:10.4px">WA<tspan style="font-size:15px" dx="0.55" dy="0.4">-</tspan><tspan dx="0.5" dy="-0.4">V</tspan></text>
<path d="M203.30,20.50 H224.70" stroke="#3dea3d" stroke-width="1.7" stroke-dasharray="1.55 1.3"/>
<text x="230.10" y="24.20" style="font-size:10.4px">WA<tspan style="font-size:15px" dx="0.55" dy="0.4">-</tspan><tspan dx="0.5" dy="-0.4">L</tspan></text>
<path d="M202.70,33.20 H227.00" stroke="#40b6f4" stroke-width="1.7" stroke-dasharray="8 8"/>
<text x="229.65" y="36.90" style="font-size:10.4px">GC<tspan style="font-size:15px" dx="0.55" dy="0.4">-</tspan><tspan dx="0.5" dy="-0.4">V</tspan></text>
<path d="M202.70,45.90 H227.00" stroke="#f83aa4" stroke-width="1.7" stroke-dasharray="3.4 3.8"/>
<text x="229.65" y="49.60" style="font-size:10.4px">GC<tspan style="font-size:15px" dx="0.55" dy="0.4">-</tspan><tspan dx="0.5" dy="-0.4">L</tspan></text>
</g>
</g></svg>
</body>
</html>
